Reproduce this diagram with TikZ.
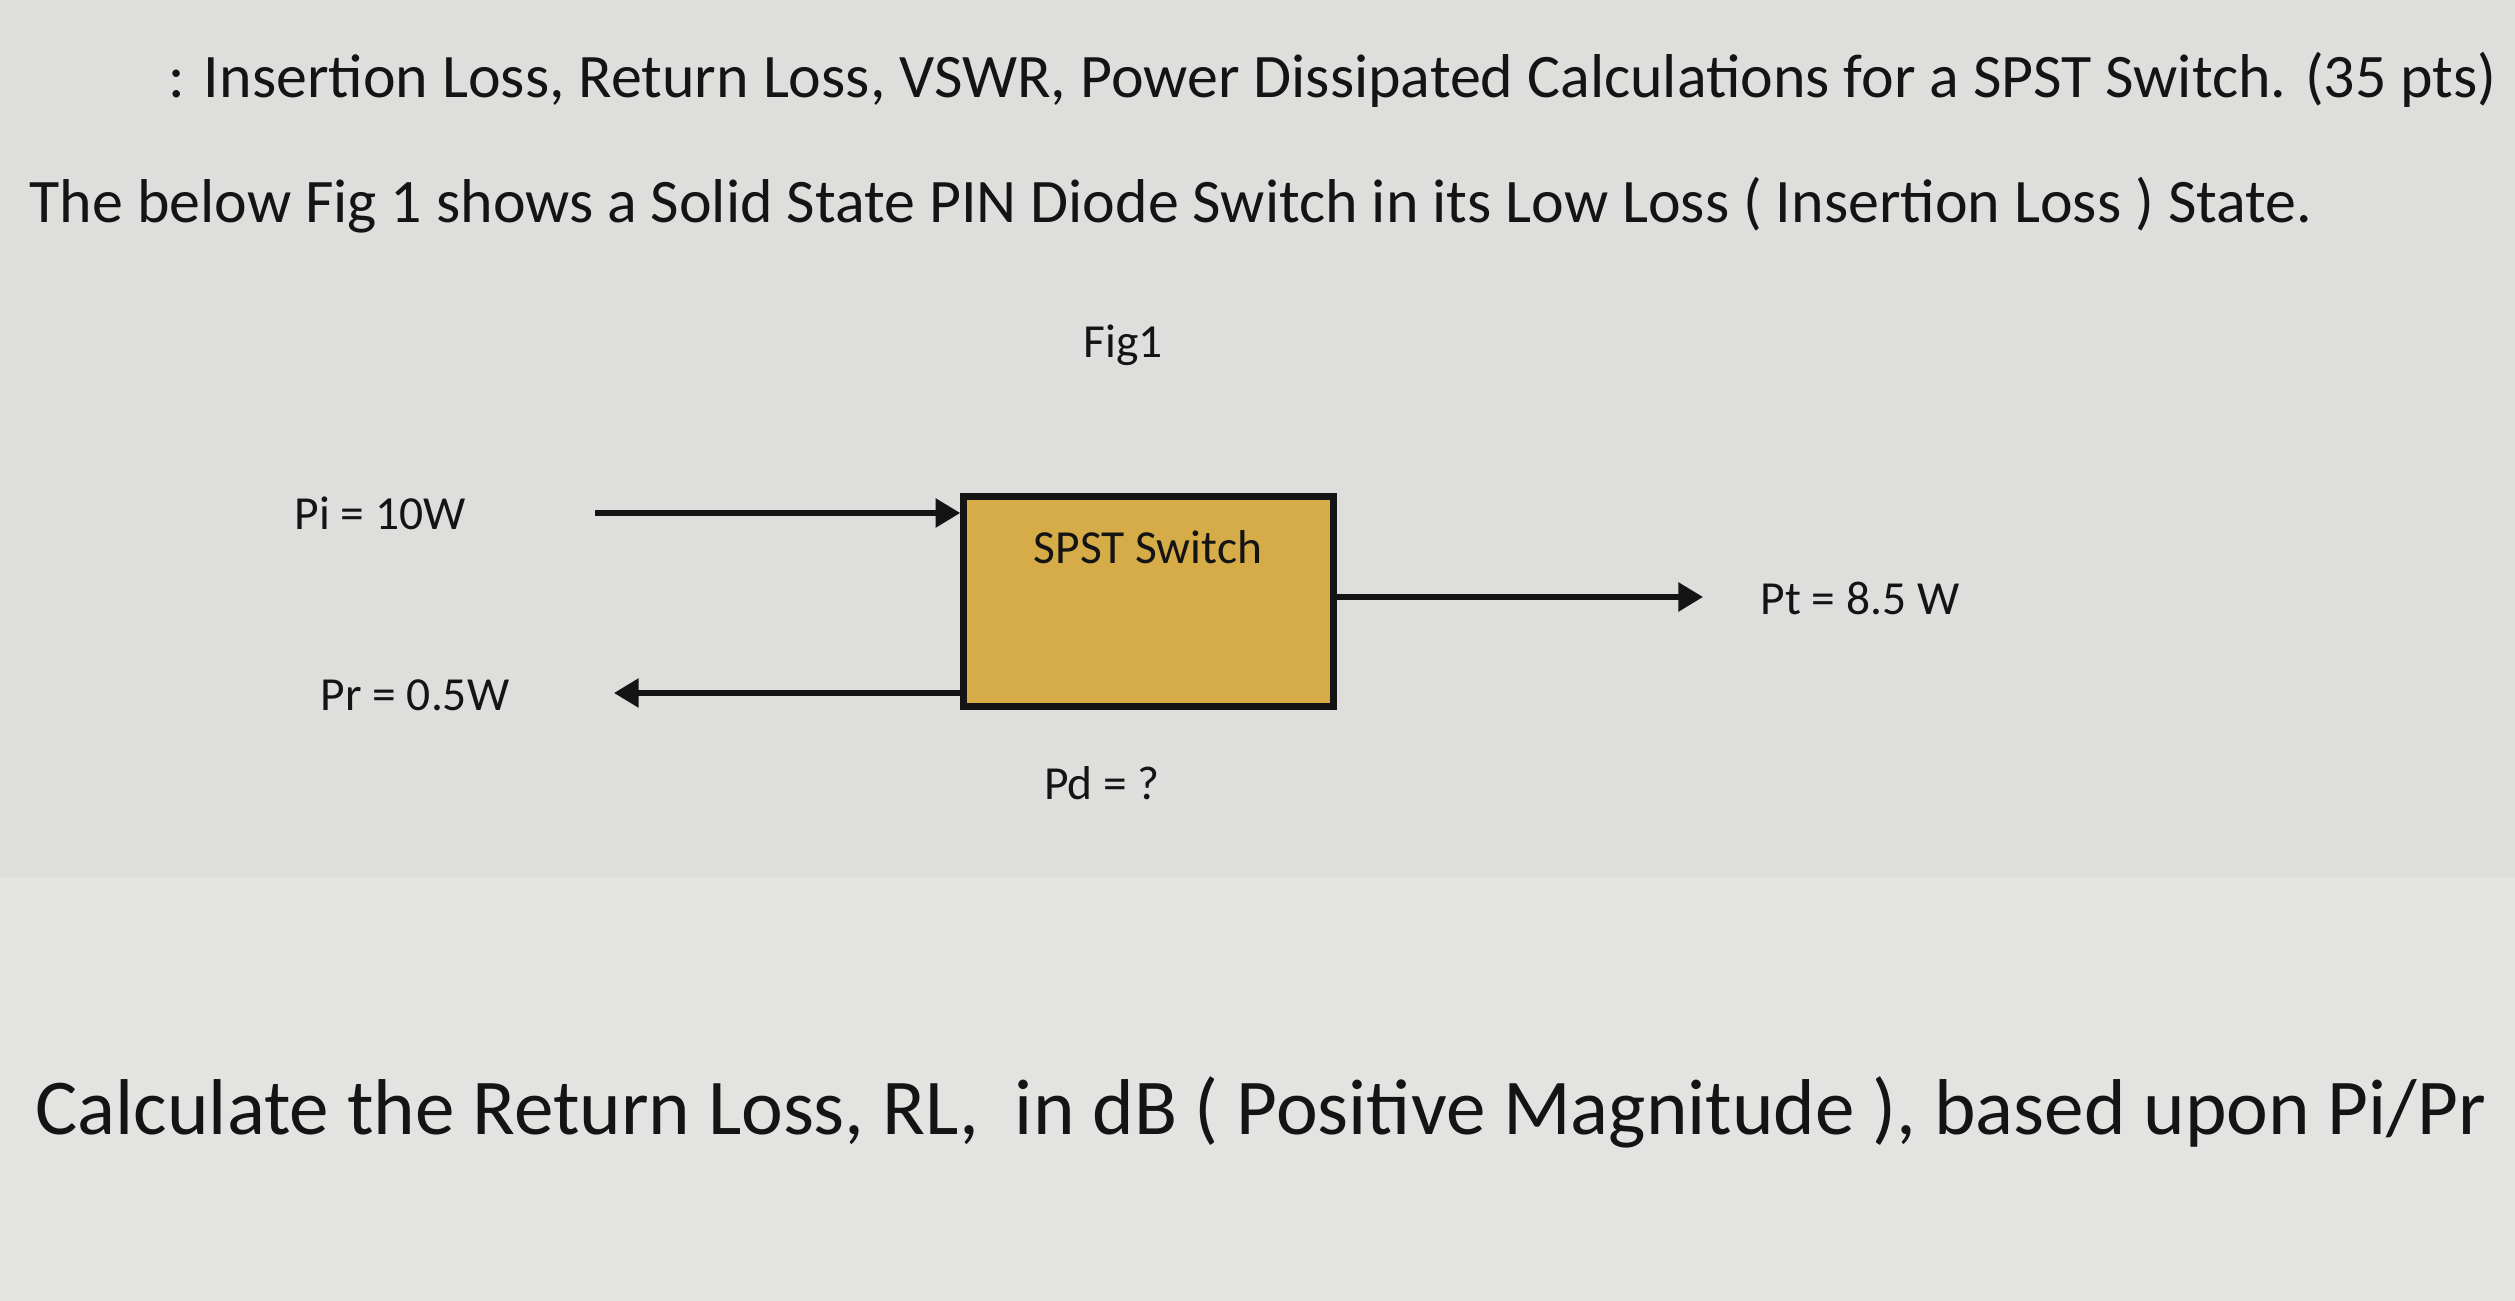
\documentclass[tikz,border=0pt]{standalone}
\usepackage{fontspec}
\setmainfont{Carlito}
\usetikzlibrary{arrows.meta}
\definecolor{paperup}{HTML}{DEDEDC}
\definecolor{paperlow}{HTML}{E3E3E1}
\definecolor{ink}{HTML}{141414}
\definecolor{switchfill}{HTML}{D6AC48}
\tikzset{
  flow/.style = {draw=ink, line width=1.5pt, -{Triangle[length=7pt,width=8pt]}},
  lbl/.style = {text=ink, font=\fontsize{13.5}{16}\selectfont, inner sep=0pt},
  para/.style = {text=ink, font=\fontsize{17.6}{21}\selectfont, inner sep=0pt, anchor=west},
  swbox/.style = {draw=ink, line width=1.8pt, fill=switchfill, minimum width=3.7cm, minimum height=2.1cm, inner sep=0pt}
}
\begin{document}
\begin{tikzpicture}[x=0.01cm, y=-0.01cm]
                \useasboundingbox (0,0) rectangle (2515,1301);
                \fill[paperup] (0,0) rectangle (2515,877);
                \fill[paperlow] (0,877) rectangle (2515,1301);
                % question text
                \node[para] (head) at (168,80) {: Insertion Loss, Return Loss, VSWR, Power Dissipated Calculations for a SPST Switch. (35 pts)};
                \node[para] (intro) at (29,205) {The below Fig 1 shows a Solid State PIN Diode Switch in its Low Loss ( Insertion Loss ) State.};
                \node[lbl] (fig) at (1123,345) {Fig1};
                % the switch
                \node[swbox] (sw) at (1148.5,601.5) {};
                \node[lbl] (swname) at (1148,547) {SPST Switch};
                \node[lbl] (pi) at (380,513) {Pi = 10W};
                \node[lbl] (pr) at (415,695) {Pr = 0.5W};
                \node[lbl] (pt) at (1860,598) {Pt = 8.5 W};
                \node[lbl] (pd) at (1102,783) {Pd = ?};
                \coordinate (inA) at (595,513);
                \coordinate (refB) at (614,693);
                \coordinate (outC) at (1703,597);
                \draw[flow] (inA) -- (inA -| sw.west);
                \draw[flow] (refB -| sw.west) -- (refB);
                \draw[flow] (outC -| sw.east) -- (outC);
                % the task
                \node[para, font=\fontsize{22.5}{27}\selectfont] (task) at (35,1112) {Calculate the Return Loss, RL,\ \ in dB ( Positive Magnitude ), based upon Pi/Pr};
            \end{tikzpicture}
\end{document}
